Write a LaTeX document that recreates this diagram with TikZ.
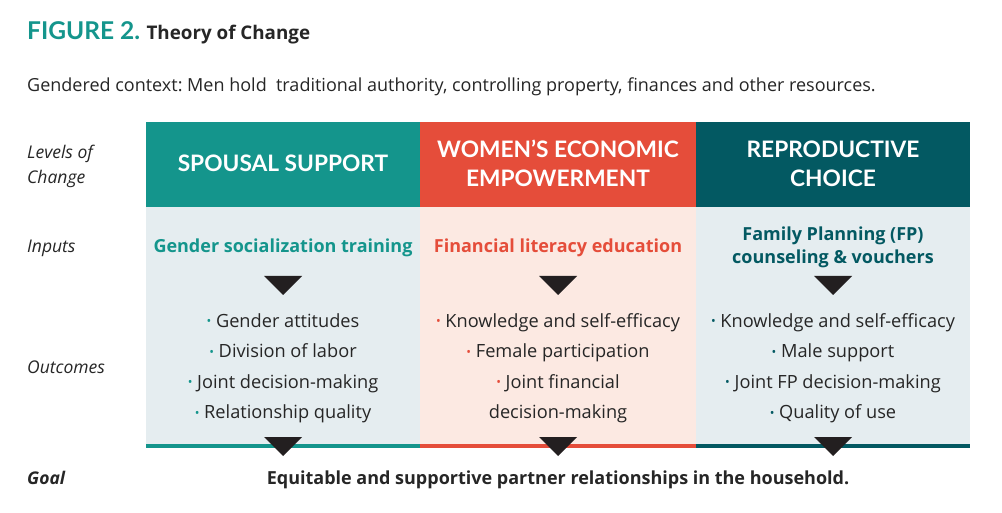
\documentclass[tikz,border=0pt]{standalone}
\usepackage{fontspec}
\setmainfont{Open Sans}
\newfontfamily\hdfont{Lato}
\frenchspacing
\definecolor{teal1}{HTML}{14958C}
\definecolor{red1}{HTML}{E54D3A}
\definecolor{dteal}{HTML}{035962}
\definecolor{lblue}{HTML}{E5EDF0}
\definecolor{lpink}{HTML}{FCE9E2}
\definecolor{txt}{HTML}{262626}
\definecolor{tri}{HTML}{231F20}
\newcommand\bul[1]{{\color{#1}\fontsize{12.5}{12}\selectfont\raisebox{1.4pt}{•}}\ }
\tikzset{
  lbl/.style={anchor=base west, inner sep=0pt, text=txt, font=\fontsize{17.5}{20}\selectfont\itshape},
  hd/.style={anchor=base, inner sep=0pt, text=white, font=\hdfont\bfseries\fontsize{22.7}{26}\selectfont},
  inp/.style={anchor=base, inner sep=0pt, font=\bfseries\fontsize{18}{20}\selectfont},
  outc/.style={anchor=base, inner sep=0pt, text=txt, font=\fontsize{18.2}{20}\selectfont},
  tri/.style={fill=tri},
}
\begin{document}
\begin{tikzpicture}[x=1pt,y=-1pt]
\fill[white] (0,0) rectangle (1002,513);
\useasboundingbox (0,0) rectangle (1002,513);
% title
\node[anchor=base west, inner sep=0pt, text=teal1, font=\hdfont\bfseries\fontsize{24.5}{26}\selectfont] (fig) at (27,40) {FIGURE 2.};
\node[anchor=base west, inner sep=0pt, text=txt, font=\bfseries\fontsize{18.8}{22}\selectfont] (ttl) at ([xshift=6pt]fig.base east) {Theory of Change};
\node[anchor=base west, inner sep=0pt, text=txt, font=\fontsize{18}{20}\selectfont] (ctx) at (27,92) {Gendered context: Men hold\ \ traditional authority, controlling property, finances and other resources.};
% row labels
\node[lbl] (lv1) at (27,159) {Levels of};
\node[lbl] (lv2) at (27,184) {Change};
\node[lbl] (inl) at (27,253) {Inputs};
\node[lbl] (oul) at (27,373) {Outcomes};
\node[lbl, font=\fontsize{17.5}{20}\selectfont\bfseries\itshape] (gl) at (27,484) {Goal};
% bodies
\fill[lblue] (146,207) rectangle (420,446);
\fill[lpink] (420,207) rectangle (696,446);
\fill[lblue] (696,207) rectangle (970,446);
% headers
\fill[teal1] (146,122) rectangle (420,207);
\fill[red1] (420,122) rectangle (696,207);
\fill[dteal] (696,122) rectangle (970,207);
\node[hd] (h1) at (283,172) {SPOUSAL SUPPORT};
\node[hd] (h2a) at (558,158) {WOMEN’S ECONOMIC};
\node[hd] (h2b) at (558,187) {EMPOWERMENT};
\node[hd] (h3a) at (833,158) {REPRODUCTIVE};
\node[hd] (h3b) at (833,187) {CHOICE};
% bottom lines
\fill[teal1] (146,444.2) rectangle (420,447.8);
\fill[red1] (420,444.2) rectangle (696,447.8);
\fill[dteal] (696,444.2) rectangle (970,447.8);
% inputs
\node[inp, text=teal1] (i1) at (283,253) {Gender socialization training};
\node[inp, text=red1] (i2) at (558,253) {Financial literacy education};
\node[inp, text=dteal] (i3a) at (833,241) {Family Planning (FP)};
\node[inp, text=dteal] (i3b) at (833,264) {counseling \& vouchers};
% triangles
\foreach \cx in {283,558,833}{
  \fill[tri] (\cx-19,276) -- (\cx+19,276) -- (\cx,295) -- cycle;
  \fill[tri] (\cx-19,437) -- (\cx+19,437) -- (\cx,456) -- cycle;
}
% outcomes
\node[outc] (o11) at (283,327) {\bul{teal1}Gender attitudes};
\node[outc] (o12) at (283,357.5) {\bul{teal1}Division of labor};
\node[outc] (o13) at (283,388) {\bul{teal1}Joint decision-making};
\node[outc] (o14) at (283,418.5) {\bul{teal1}Relationship quality};
\node[outc] (o21) at (558,327) {\bul{red1}Knowledge and self-efficacy};
\node[outc] (o22) at (558,357.5) {\bul{red1}Female participation};
\node[outc] (o23) at (558,388) {\bul{red1}Joint financial};
\node[outc] (o24) at (558,418.5) {decision-making};
\node[outc] (o31) at (833,327) {\bul{dteal}Knowledge and self-efficacy};
\node[outc] (o32) at (833,357.5) {\bul{dteal}Male support};
\node[outc] (o33) at (833,388) {\bul{dteal}Joint FP decision-making};
\node[outc] (o34) at (833,418.5) {\bul{dteal}Quality of use};
% goal
\node[outc, font=\bfseries\fontsize{18}{20}\selectfont] (goal) at (558,484) {Equitable and supportive partner relationships in the household.};
\end{tikzpicture}
\end{document}
